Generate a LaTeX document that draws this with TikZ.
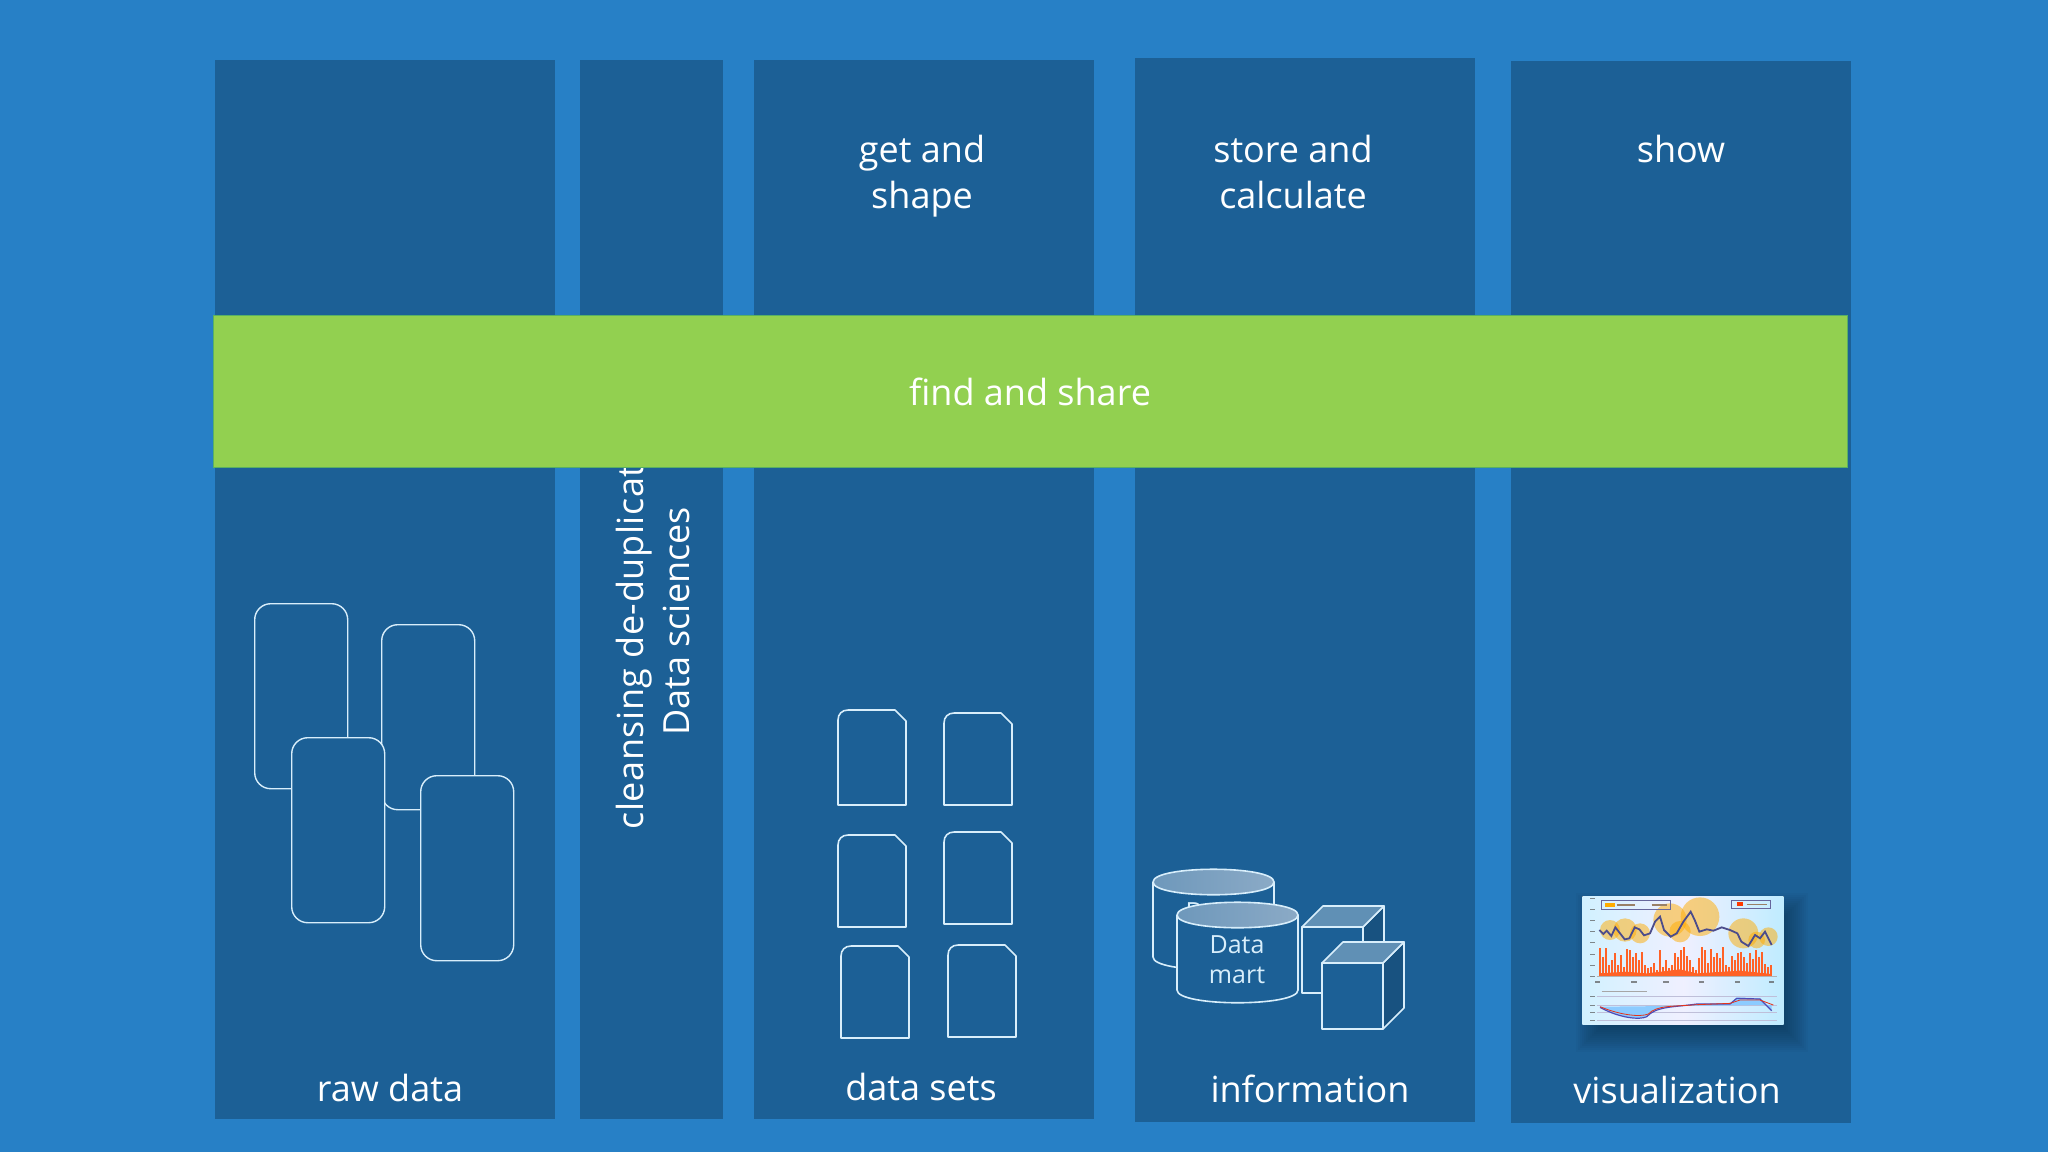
\documentclass[tikz,border=0pt]{standalone}
\usepackage{fontspec}
\setmainfont{Open Sans}
\usetikzlibrary{positioning}
\definecolor{pagebg}{HTML}{2780C6}
\definecolor{colbg}{HTML}{1C6096}
\definecolor{barbg}{HTML}{92D050}
\definecolor{edgeline}{HTML}{D8EEFB}
\definecolor{lidleft}{HTML}{6E98BB}
\definecolor{lidright}{HTML}{8BAAC6}
\tikzset{
    every picture/.style={x=.5pt,y=-.5pt,node distance=12pt},
    column/.style={fill=colbg,anchor=north west,inner sep=0pt,minimum width=170pt},
    label/.style={text=white,font=\fontsize{18}{23}\selectfont,align=center,anchor=base},
    sidelabel/.style={text=white,font=\fontsize{18}{23}\selectfont,rotate=90,anchor=base west,inner sep=0pt},
    card/.style={draw=edgeline,line width=.7pt,fill=colbg,rounded corners=8pt,anchor=north west,
        minimum width=46.5pt,minimum height=92.5pt,inner sep=0pt},
    small/.style={text=edgeline,font=\fontsize{12.5}{15}\selectfont,align=center,anchor=base},
    outline/.style={draw=edgeline,line width=.8pt,line join=round},
    pics/docsheet/.style={code={
        \draw[outline] (0,#1) -- (0,10) .. controls (0,4) and (4,0) .. (10,0) -- (57,0) -- (68,11) -- (68,#1) -- cycle;
    }},
    pics/datacyl/.style={code={
        \draw[outline,fill=colbg] (0,0) -- (0,75) .. controls (0,92) and (121,92) .. (121,75) -- (121,0);
        \draw[outline,left color=lidleft,right color=lidright] (0,0) .. controls (0,-17) and (121,-17) .. (121,0)
            .. controls (121,17) and (0,17) .. (0,0) -- cycle;
    }},
    pics/datacube/.style={code={
        \draw[outline,fill=colbg!85!black] (61,0) -- (82,-21) -- (82,45) -- (61,66) -- cycle;
        \draw[outline,fill=colbg!70!white] (0,0) -- (21,-21) -- (82,-21) -- (61,0) -- cycle;
        \draw[outline,fill=colbg] (0,0) rectangle (61,66);
    }}
}
\begin{document}
\begin{tikzpicture}
    \useasboundingbox (0,0) rectangle (2048,1152);
    \fill[pagebg] (0,0) rectangle (2048,1152);

    % columns
    \node[column,minimum height=529.5pt] (rawcol) at (215,60) {};
    \node[column,minimum height=529.5pt,minimum width=71.5pt] (cleancol) [right=12pt of rawcol.north east,anchor=north west] {};
    \node[column,minimum height=529.5pt] (setcol) [right=15pt of cleancol.north east,anchor=north west] {};
    \node[column,minimum height=532pt] (infocol) at (1135,58) {};
    \node[column,minimum height=531pt] (showcol) at (1511,61) {};

    \node[sidelabel] (cleantext) at (643,830) {\addfontfeature{LetterSpace=1.6}cleansing de-duplicat};
    \node[sidelabel] (sciencetext) at (689,736) {Data sciences};

    % bar across
    \node[fill=barbg,draw=barbg!60!teal,line width=.5pt,anchor=north west,inner sep=0pt,
        minimum width=817pt,minimum height=76pt] (sharebar) at (213,315) {};
    \node[label] (sharetext) at (1030,405) {find and share};

    % headings
    \node[label] (gettext) at (922,208) {get and\\shape};
    \node[label] (storetext) at (1293,208) {store and\\calculate};
    \node[label] (showtext) at (1681,162) {show};

    % bottom labels
    \node[label] (rawtext) at (390,1101) {raw data};
    \node[label] (settext) at (921,1100) {data sets};
    \node[label] (infotext) at (1310,1102) {information};
    \node[label] (vistext) at (1677,1103) {visualization};

    % raw data cards
    \node[card] (card1) at (254,603) {};
    \node[card] (card2) at (381,624) {};
    \node[card] (card3) at (291,737) {};
    \node[card] (card4) at (420,775) {};

    % data sets
    \pic (doc1) at (838,710) {docsheet=95};
    \pic (doc2) at (944,713) {docsheet=92};
    \pic (doc3) at (838,835) {docsheet=92};
    \pic (doc4) at (944,832) {docsheet=92};
    \pic (doc5) at (841,946) {docsheet=92};
    \pic (doc6) at (948,945) {docsheet=92};

    % information
    \pic (backcyl) at (1153,882) {datacyl};
    \node[small] (backtext) at (1213,920) {Data};
    \pic (frontcyl) at (1177,915) {datacyl};
    \node[small] (marttext) at (1237,983) {Data\\mart};
    \pic (backcube) at (1302,927) {datacube};
    \pic (frontcube) at (1322,963) {datacube};

    % chart thumbnail, numbers are in 3x px of its own corner
    \begin{scope}[shift={(1540,870)},x=.16667pt,y=-.16667pt]
        \foreach \s in {-36,-30,...,48}
            \fill[black,opacity=.024] (157-\s,118-\s) rectangle (755+\s,497+\s);
        \fill[left color=blue!30!cyan!18!white,right color=blue!30!cyan!25!white,middle color=blue!6!white] (127,78) rectangle (731,462);
        \foreach \cx/\cy/\r in {210/180/30,255/180/35,300/190/30,390/150/50,420/185/32,480/140/58,
            610/190/45,650/210/25,685/200/28}
            \fill[orange!65!yellow,opacity=.5] (\cx,\cy) circle (\r);
        \fill[red!45!orange!85!white] (178,318) -- (178,310) -- (260,305) -- (320,310) -- (420,298) -- (470,310) -- (600,302) -- (695,312) -- (695,318) -- cycle;
        \foreach \bx/\bt in {178/235,187/262,196/235,205/285,214/270,223/250,232/285,241/255,250/290,
            259/238,268/240,277/262,286/250,295/270,304/245,313/285,322/295,331/290,340/280,349/300,
            358/240,367/290,376/270,385/295,394/285,403/250,412/262,421/240,430/232,439/258,448/270,
            457/290,466/300,475/265,484/232,493/240,502/280,511/238,520/262,529/248,538/265,547/232,
            556/285,565/292,574/258,583/270,592/250,601/245,610/262,619/280,628/250,637/268,646/240,
            655/262,664/245,673/282,682/290,691/285}
            \fill[red!45!orange!85!white] (\bx,318) rectangle (\bx+6,\bt);
        \draw[blue!35!black!70,line width=.9pt] (178,180) -- (190,192) -- (200,182) -- (214,198) -- (226,172) -- (240,190)
            -- (254,208) -- (268,205) -- (284,172) -- (298,178) -- (312,196) -- (330,190) -- (345,155) -- (360,140) -- (372,180)
            -- (392,200) -- (410,190) -- (430,155) -- (452,125) -- (464,150) -- (478,185) -- (500,178) -- (520,182)
            -- (545,172) -- (570,180) -- (592,190) -- (604,215) -- (625,228) -- (645,195) -- (660,205) -- (675,185) -- (695,225);
        \draw[gray!60,line width=.3pt] (170,318) -- (712,318);
        \draw[blue!35!black!60,line width=.4pt] (185,90) rectangle (390,118);
        \fill[orange!65!yellow] (195,98) rectangle (225,110);
        \draw[gray!60!brown,line width=.6pt] (230,105) -- (285,105) (335,105) -- (380,105);
        \draw[blue!35!black!60,line width=.4pt] (575,90) rectangle (692,116);
        \fill[red!55!orange] (590,97) rectangle (610,108);
        \draw[gray!60!brown,line width=.6pt] (620,104) -- (682,104);
        % lower panel
        \draw[gray!70,line width=.6pt] (185,365) -- (320,365);
        \draw[blue!25!gray!40,line width=.3pt] (170,380) -- (710,380) (170,405) -- (710,405) (170,428) -- (710,428) (170,452) -- (710,452);
        \fill[blue!45!cyan!45] (180,410) .. controls (240,445) and (300,450) .. (320,438) .. controls (350,405) and (400,410) .. (470,402)
            -- (570,400) -- (590,382) -- (660,385) -- (695,420) -- (695,405) -- cycle;
        \draw[blue!60!black!70,line width=.6pt] (180,412) .. controls (240,445) and (300,450) .. (320,440) .. controls (350,408) and (400,412) .. (470,402)
            -- (570,402) -- (590,385) -- (660,387) -- (695,422);
        \draw[red!60!brown,line width=.4pt] (180,410) .. controls (240,435) and (300,442) .. (325,432) .. controls (350,405) and (400,410) .. (470,404)
            -- (570,400) -- (600,390) -- (660,390) -- (700,405);
        \foreach \ty in {85,118,152,185,218,252,285,318,380,405,428,452}
            \fill[gray!70!black,opacity=.7] (150,\ty-1.5) rectangle (165,\ty+1.5);
        \foreach \tx in {172,282,378,485,592,695}
            \fill[gray!70!black,opacity=.7] (\tx-8,334) rectangle (\tx+8,340);
    \end{scope}
\end{tikzpicture}
\end{document}
